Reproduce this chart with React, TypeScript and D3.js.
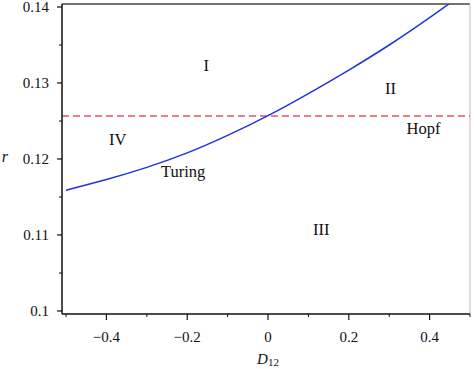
import React from "react";
import * as d3 from "d3";

const curveX = [-0.5, -0.4, -0.3, -0.2, -0.1, 0, 0.1, 0.2, 0.3, 0.4, 0.5];
const curveY = [0.1159, 0.1173, 0.1189, 0.1208, 0.1231, 0.1257, 0.1286, 0.1317, 0.135, 0.1386, 0.1424];
const hopfY = 0.12566;
const xTicks = [-0.4, -0.2, 0, 0.2, 0.4];
const xMinorTicks = [-0.5, -0.3, -0.1, 0.1, 0.3, 0.5];
const yTicks = [0.1, 0.11, 0.12, 0.13, 0.14];
const yMinorTicks = [0.105, 0.115, 0.125, 0.135];
const regionLabels = [
  { text: "I", x: -0.153, y: 0.1324 },
  { text: "II", x: 0.303, y: 0.1293 },
  { text: "Hopf", x: 0.385, y: 0.124 },
  { text: "IV", x: -0.372, y: 0.1226 },
  { text: "Turing", x: -0.21, y: 0.1184 },
  { text: "III", x: 0.132, y: 0.1107 },
];

const W = 474, H = 369;
const L = 62, R = 470, T = 4, B = 314;
const FONT = "Liberation Serif, Times New Roman, serif";

export default function App() {
  const x = d3.scaleLinear().domain([-0.51, 0.5]).range([L, R]);
  const y = d3.scaleLinear().domain([0.1 - 3 / 7600, 0.14 + 3 / 7600]).range([B, T]);
  const line = d3.line<number>().x((_, i) => x(curveX[i])).y((d) => y(d)).curve(d3.curveNatural);
  const fmtX = (v: number) => (v === 0 ? "0" : d3.format(".1f")(v).replace("-", "\u2212"));
  const fmtY = (v: number) => d3.format("~g")(v);
  return (
    <svg width={W} height={H} style={{ position: "absolute", left: 0, top: 0, background: "#fff" }}>
      <defs>
        <clipPath id="plot">
          <rect x={L} y={T} width={R - L} height={B - T} />
        </clipPath>
      </defs>
      <line x1={L} x2={R} y1={T} y2={T} stroke="#444" strokeWidth={1.5} />
      <line x1={R} x2={R} y1={T} y2={B} stroke="#bbb" strokeWidth={1} />
      <g clipPath="url(#plot)">
        <line x1={L} x2={R} y1={y(hopfY)} y2={y(hopfY)} stroke="#e05566" strokeWidth={1.6} strokeDasharray="7,4" />
        <path d={line(curveY) || ""} fill="none" stroke="#2233dd" strokeWidth={1.5} />
      </g>
      <line x1={L} x2={L} y1={T} y2={B} stroke="#111" strokeWidth={1.5} />
      <line x1={L} x2={R} y1={B} y2={B} stroke="#111" strokeWidth={1.5} />
      {yTicks.map((t) => (
        <g key={"y" + t}>
          <line x1={L - 5} x2={L} y1={y(t)} y2={y(t)} stroke="#111" strokeWidth={1.2} />
          <text x={L - 13} y={y(t)} dy="0.35em" textAnchor="end" fontSize={15} fontFamily={FONT} fill="#111">{fmtY(t)}</text>
        </g>
      ))}
      {yMinorTicks.map((t) => (
        <line key={"ym" + t} x1={L - 3} x2={L} y1={y(t)} y2={y(t)} stroke="#111" strokeWidth={1} />
      ))}
      {xTicks.map((t) => (
        <g key={"x" + t}>
          <line x1={x(t)} x2={x(t)} y1={B} y2={B + 6} stroke="#111" strokeWidth={1.2} />
          <text x={x(t)} y={342} textAnchor="middle" fontSize={15} fontFamily={FONT} fill="#111">{fmtX(t)}</text>
        </g>
      ))}
      {xMinorTicks.map((t) => (
        <line key={"xm" + t} x1={x(t)} x2={x(t)} y1={B} y2={B + 3} stroke="#111" strokeWidth={1} />
      ))}
      {regionLabels.map((d) => (
        <text key={d.text} x={x(d.x)} y={y(d.y)} dy="0.35em" textAnchor="middle" fontSize={16.5} fontFamily={FONT} fill="#111">{d.text}</text>
      ))}
      <text x={268} y={364} textAnchor="middle" fontSize={15} fontFamily={FONT} fill="#111">
        <tspan fontStyle="italic">D</tspan>
        <tspan fontSize={11} dy={2}>12</tspan>
      </text>
      <text x={8} y={162} textAnchor="end" fontSize={16} fontFamily={FONT} fontStyle="italic" fill="#111">r</text>
    </svg>
  );
}
